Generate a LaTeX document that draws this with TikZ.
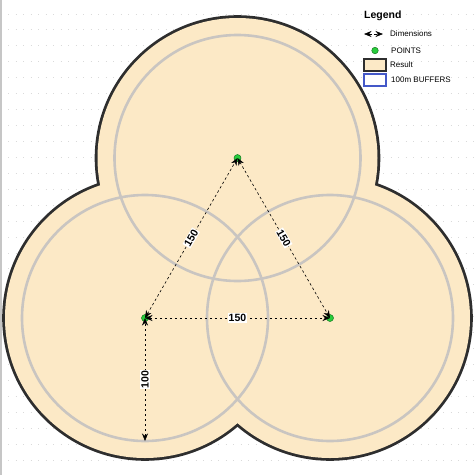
\documentclass[tikz,border=0pt]{standalone}
\usepackage{fontspec}
\setmainfont{Liberation Sans}
\usetikzlibrary{arrows.meta}

\definecolor{resfill}{RGB}{252,233,198}
\definecolor{resline}{RGB}{46,46,46}
\definecolor{bufgray}{RGB}{201,197,193}
\definecolor{bufblue}{RGB}{68,88,200}
\definecolor{ptgreen}{RGB}{40,205,60}
\definecolor{ptdark}{RGB}{20,120,30}
\definecolor{gridgray}{RGB}{218,218,218}

\tikzset{
  pt/.style={circle, fill=ptgreen, draw=ptdark, line width=0.5pt, inner sep=0pt, minimum size=7pt},
  dim/.style={line width=0.6pt, dash pattern=on 2.5pt off 2.5pt,
    {Stealth[length=7.5pt,width=6pt]}-{Stealth[length=7.5pt,width=6pt]}},
  lbl/.style={fill=white, inner sep=0.8pt, sloped, font=\bfseries\fontsize{10.5}{10.5}\selectfont},
  buf/.style={draw=bufgray, line width=2.6pt},
  legtext/.style={anchor=west, inner sep=0pt, font=\fontsize{8}{9}\selectfont},
}

\begin{document}
\begin{tikzpicture}[x=1pt,y=-1pt]
\useasboundingbox (0,0) rectangle (474,475);

% dotted background grid
\foreach \r in {0,...,28}
  \draw[gridgray, line width=0.9pt, dash pattern=on 0.9pt off 6.6pt] (8,{14+15.93*\r}) -- (474,{14+15.93*\r});
\draw[gray!45, line width=2pt] (1,0) -- (1,475);

% point locations
\coordinate (c1) at (237.5,158);
\coordinate (c2) at (145,318);
\coordinate (c3) at (330,318);

% result (union of the buffers)
\foreach \c in {c1,c2,c3}
  \draw[resline, line width=5.6pt] (\c) circle[radius=140pt];
\foreach \c in {c1,c2,c3}
  \fill[resfill] (\c) circle[radius=140pt];

% 100m buffers
\foreach \c in {c1,c2,c3}
  \draw[buf] (\c) circle[radius=123pt];

% points
\node[pt] (P1) at (c1) {};
\node[pt] (P2) at (c2) {};
\node[pt] (P3) at (c3) {};
\coordinate (B2) at (145,441);

% dimensions
\draw[dim] (P2.center) -- node[lbl] {150} (P1.center);
\draw[dim] (P1.center) -- node[lbl] {150} (P3.center);
\draw[dim] (P2.center) -- node[lbl, sloped=false] {150} (P3.center);
\draw[dim] (B2) -- node[lbl] {100} (P2.center);

% legend
\node[anchor=west, inner sep=0pt, font=\bfseries\fontsize{10.5}{12}\selectfont] (legtitle) at (364,16) {Legend};
\draw[dim, dash pattern=on 3pt off 2pt] (364,34) -- (383,34);
\node[legtext] (legdim) at (390,34) {Dimensions};
\node[pt, minimum size=6.5pt] (legpt) at (375,50.5) {};
\node[legtext] (legpts) at (391,50.5) {POINTS};
\draw[resline, fill=resfill, line width=1.6pt] (364,59) rectangle (386,71);
\node[legtext] (legres) at (390,65) {Result};
\draw[bufblue, fill=white, line width=1.6pt] (364,74) rectangle (386,86);
\node[legtext] (legbuf) at (391,80) {100m BUFFERS};
\end{tikzpicture}
\end{document}
